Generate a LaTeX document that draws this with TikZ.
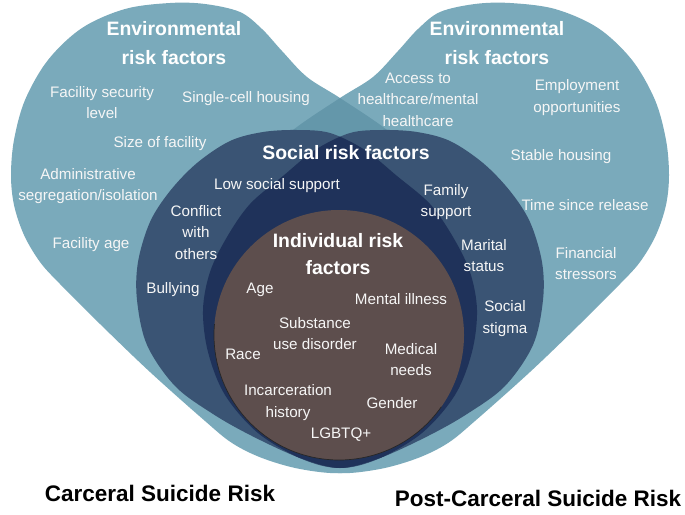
\documentclass[tikz,border=0pt]{standalone}
\usepackage{fontspec}
\setmainfont{Liberation Sans}
\definecolor{lobeteal}{HTML}{7AAABB}
\definecolor{lobeover}{HTML}{6497AA}
\definecolor{socmid}{HTML}{3A5474}
\definecolor{socnavy}{HTML}{1F325A}
\definecolor{indbrown}{HTML}{5D4E4D}
\definecolor{txtwhite}{HTML}{F6F6F6}
\begin{document}
\begin{tikzpicture}[x=1pt,y=-1pt,
  lbl/.style={text=txtwhite, font=\fontsize{15.2}{21.5}\selectfont, align=center, inner sep=0pt},
  ttl/.style={text=white, font=\bfseries\fontsize{19.4}{29}\selectfont, align=center, inner sep=0pt},
  bottomlbl/.style={text=black, font=\bfseries\fontsize{22.5}{27}\selectfont, inner sep=0pt},
  leftlobe/.style={insert path={plot[smooth cycle, tension=0.55] coordinates {
    (342,473) (300,469) (262,458) (232,443) (205,421) (150,372) (100,324) (60,284)
    (40,262) (24,235) (14,205) (11,175) (14,140) (25,100) (48,60) (82,28) (125,9)
    (170,3) (205,4) (240,12) (262,29) (282,51) (307,77) (340,98) (387,130)
    (425,165) (445,240) (440,330) (410,410) (370,462)}}},
  rightlobe/.style={insert path={plot[smooth cycle, tension=0.55] coordinates {
    (338,473) (380,469) (418,458) (448,443) (475,421) (530,372) (580,324) (620,284)
    (640,262) (656,235) (666,205) (669,175) (666,140) (655,100) (632,60) (598,28) (555,9)
    (510,3) (475,4) (440,12) (418,29) (398,51) (373,77) (340,98) (293,130)
    (255,165) (235,240) (240,330) (270,410) (310,462)}}},
  leftsoc/.style={insert path={plot[smooth cycle, tension=0.55] coordinates {
    (340,468) (300,458) (252,436) (213,414) (175,386) (147,345) (137,300) (138,262)
    (150,222) (170,191) (197,163) (230,141) (263,132) (297,130) (330,133) (365,150)
    (397,176) (430,204) (453,237) (470,272) (477,310) (472,352) (455,395) (422,433) (378,459)}}},
  rightsoc/.style={insert path={plot[smooth cycle, tension=0.55] coordinates {
    (340,468) (380,458) (428,436) (467,414) (505,386) (533,345) (543,300) (542,262)
    (530,222) (510,191) (483,163) (450,141) (417,132) (383,130) (350,133) (315,150)
    (283,176) (250,204) (227,237) (210,272) (203,310) (208,352) (225,395) (258,433) (302,459)}}}
]
\useasboundingbox (0,0) rectangle (685,514);
\fill[white] (0,0) rectangle (685,514);

% environmental lobes
\fill[lobeteal, leftlobe];
\fill[lobeteal, rightlobe];
\begin{scope}
  \clip (0,0) rectangle (685,200);
  \clip[leftlobe];
  \fill[lobeover, rightlobe];
\end{scope}

% social shapes
\fill[socmid, leftsoc];
\fill[socmid, rightsoc];
\begin{scope}
  \clip[leftsoc];
  \fill[socnavy, rightsoc];
\end{scope}

% individual circle
\fill[indbrown] (339,335) circle (125);
\draw[black!85, line width=0.7pt] (339,335) ++(185:125) arc (185:35:125);

% titles
\node[ttl] (envL) at (174,43) {Environmental\\risk factors};
\node[ttl] (envR) at (497,43) {Environmental\\risk factors};
\node[ttl] (soc) at (346,153) {Social risk factors};
\node[ttl] (ind) at (338,254) {Individual risk\\[-2pt]factors};

% environmental (carceral)
\node[lbl] (fsl) at (102,102.5) {Facility security\\level};
\node[lbl] (sch) at (246,99) {Single-cell housing};
\node[lbl] (sof) at (160,144) {Size of facility};
\node[lbl] (adm) at (88,186) {Administrative\\segregation/isolation};
\node[lbl] (fage) at (91,245) {Facility age};

% environmental (post-carceral)
\node[lbl] (acc) at (418,99.5) {Access to\\healthcare/mental\\healthcare};
\node[lbl] (emp) at (577,97.5) {Employment\\opportunities};
\node[lbl] (sth) at (561,157) {Stable housing};
\node[lbl] (tsr) at (585,205) {Time since release};
\node[lbl] (fin) at (586,263.5) {Financial\\stressors};

% social
\node[lbl] (lss) at (277,186) {Low social support};
\node[lbl] (cwo) at (196,232.5) {Conflict\\with\\others};
\node[lbl] (bul) at (173,290) {Bullying};
\node[lbl] (fam) at (446,202) {Family\\support};
\node[lbl] (mar) at (484,255.5) {Marital\\status};
\node[lbl] (sst) at (505,318.5) {Social\\stigma};

% individual
\node[lbl] (age) at (260,290) {Age};
\node[lbl] (mi) at (401,299) {Mental illness};
\node[lbl] (sub) at (315,333.5) {Substance\\use disorder};
\node[lbl] (race) at (243,354) {Race};
\node[lbl] (med) at (411,359.5) {Medical\\needs};
\node[lbl] (inc) at (288,402.5) {Incarceration\\history};
\node[lbl] (gen) at (392,403) {Gender};
\node[lbl] (lgb) at (341,435) {LGBTQ+};

% bottom captions
\node[bottomlbl] (car) at (160,493) {Carceral Suicide Risk};
\node[bottomlbl] (post) at (538,498) {Post-Carceral Suicide Risk};
\end{tikzpicture}
\end{document}
